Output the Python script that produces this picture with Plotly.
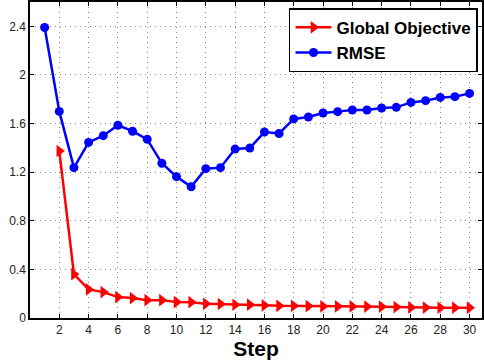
import plotly.graph_objects as go

steps_rmse = list(range(1, 31))
rmse = [2.39, 1.70, 1.237, 1.445, 1.50, 1.586, 1.537, 1.47, 1.273, 1.163,
        1.08, 1.229, 1.237, 1.39, 1.398, 1.53, 1.518, 1.638, 1.654, 1.687,
        1.698, 1.711, 1.711, 1.728, 1.733, 1.774, 1.788, 1.815, 1.821, 1.848]
steps_obj = list(range(2, 31))
objective = [1.374, 0.36, 0.235, 0.213, 0.172, 0.164, 0.147, 0.147, 0.131, 0.13,
             0.117, 0.115, 0.109, 0.11, 0.104, 0.10, 0.10, 0.098, 0.096, 0.096,
             0.095, 0.094, 0.093, 0.09, 0.087, 0.086, 0.085, 0.085, 0.085]
x_ticks = list(range(2, 31, 2))
y_ticks = [0, 0.4, 0.8, 1.2, 1.6, 2, 2.4]
y_tick_text = ["0", "0.4", "0.8", "1.2", "1.6", "2", "2.4"]

FONT = "Liberation Sans, Arial, sans-serif"

fig = go.Figure()
fig.add_trace(go.Scatter(
    x=steps_obj, y=objective, name="<b>Global Objective</b>", mode="lines+markers",
    line=dict(color="#ff0000", width=2.5),
    marker=dict(symbol="triangle-right", size=11, color="#ff0000"),
))
fig.add_trace(go.Scatter(
    x=steps_rmse, y=rmse, name="<b>RMSE</b>", mode="lines+markers",
    line=dict(color="#0000ff", width=2.5),
    marker=dict(symbol="circle", size=9, color="#0000ff"),
))

axis_common = dict(
    showline=True, linecolor="black", linewidth=1.5, mirror="ticks",
    ticks="inside", ticklen=4, tickcolor="black",
    showgrid=True, gridcolor="#8a8a8a", griddash="1px,4px", gridwidth=1,
    zeroline=False,
    tickfont=dict(family=FONT, size=12, color="#222222"),
)

fig.update_layout(
    width=484, height=364,
    margin=dict(l=30, r=0, t=0, b=46),
    paper_bgcolor="white", plot_bgcolor="white",
    font=dict(family=FONT),
    xaxis=dict(range=[0, 30.85], tickvals=x_ticks,
               title=dict(text="<b>Step</b>", font=dict(family=FONT, size=21, color="black"), standoff=3),
               **axis_common),
    yaxis=dict(range=[0, 2.6], tickvals=y_ticks, ticktext=y_tick_text, **axis_common),
    legend=dict(x=0.573, y=0.98, xanchor="left", yanchor="top",
                bgcolor="white", bordercolor="black", borderwidth=1.5,
                font=dict(family=FONT, size=17, color="black"),
                tracegroupgap=0, itemwidth=36),
    showlegend=True,
)

fig.write_html("out.html")
